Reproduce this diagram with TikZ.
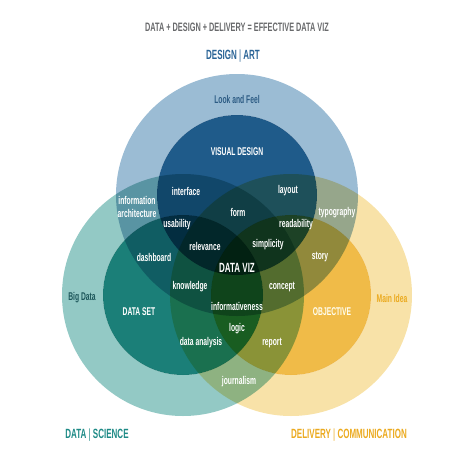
\documentclass[tikz,border=0pt]{standalone}
\usepackage{fontspec}
\setmainfont{Liberation Sans}[FakeStretch=0.6]
\usepackage{tikz}
\usetikzlibrary{positioning}
\usepackage{xcolor}
\definecolor{designlight}{RGB}{155, 188, 212}
\definecolor{designdark}{RGB}{31, 91, 138}
\definecolor{datalight}{RGB}{147, 201, 197}
\definecolor{datadark}{RGB}{27, 127, 120}
\definecolor{deliverylight}{RGB}{248, 226, 168}
\definecolor{deliverydark}{RGB}{240, 187, 72}
\definecolor{titlegray}{RGB}{105, 106, 108}
\definecolor{designtext}{RGB}{42, 100, 150}
\definecolor{looktext}{RGB}{45, 92, 132}
\definecolor{datatext}{RGB}{30, 138, 134}
\definecolor{bigdatatext}{RGB}{28, 86, 90}
\definecolor{deliverytext}{RGB}{235, 170, 31}

\begin{document}
\begin{tikzpicture}[x=0.02cm, y=-0.02cm,
    disc/.style={blend mode=multiply},
    innertext/.style={font=\bfseries\fontsize{6.4}{7.0}\selectfont, text=white, align=center, inner sep=0pt},
    ringtext/.style={font=\bfseries\fontsize{6.4}{7.0}\selectfont, inner sep=0pt},
    headtext/.style={font=\bfseries\fontsize{7.6}{8.6}\selectfont, inner sep=0pt}]
  \useasboundingbox (0,0) rectangle (474,474);

  % --- Design circle ---
  \fill[disc, designlight, even odd rule] (237,195) circle (121) (237,195) circle (80);
  \fill[disc, designdark] (237,195) circle (80);
  % --- Data circle ---
  \fill[disc, datalight, even odd rule] (183,295) circle (121) (183,295) circle (80);
  \fill[disc, datadark] (183,295) circle (80);
  % --- Delivery circle ---
  \fill[disc, deliverylight, even odd rule] (291,295) circle (121) (291,295) circle (80);
  \fill[disc, deliverydark] (291,295) circle (80);

  % Headings
  \node[headtext, titlegray, font=\bfseries\fontsize{6.95}{8}\selectfont] (title) at (237,27)
    {DATA + DESIGN + DELIVERY = EFFECTIVE DATA VIZ};
  \node[headtext, designtext] (design) at (233,56) {DESIGN {\mdseries|} ART};
  \node[headtext, datatext] (data) at (97,435) {DATA {\mdseries|} SCIENCE};
  \node[headtext, deliverytext] (delivery) at (349,435) {DELIVERY {\mdseries|} COMMUNICATION};

  % Outer rings
  \node[ringtext, looktext] (look) at (237,99) {Look and Feel};
  \node[ringtext, bigdatatext] (bigdata) at (82,298) {Big Data};
  \node[ringtext, deliverytext] (mainidea) at (392,298) {Main Idea};

  % Inner circles
  \node[innertext] (visual) at (237,152) {VISUAL DESIGN};
  \node[innertext] (dataset) at (139,312) {DATA SET};
  \node[innertext, text=white!94!yellow] (objective) at (332,312) {OBJECTIVE};

  % Overlaps
  \node[innertext] (interface) at (186,191) {interface};
  \node[innertext] (layout) at (288,191) {layout};
  \node[innertext] (infoarch) at (137,207) {information\\architecture};
  \node[innertext] (form) at (238,212) {form};
  \node[innertext] (typography) at (337,213) {typography};
  \node[innertext] (usability) at (177,225) {usability};
  \node[innertext] (readability) at (296,225) {readability};
  \node[innertext] (relevance) at (205,246) {relevance};
  \node[innertext] (simplicity) at (268,245) {simplicity};
  \node[innertext] (dashboard) at (154,257) {dashboard};
  \node[innertext] (story) at (320,257) {story};
  \node[innertext, font=\bfseries\fontsize{7.6}{8.6}\selectfont] (dataviz) at (237,268) {DATA VIZ};
  \node[innertext] (knowledge) at (190,287) {knowledge};
  \node[innertext] (concept) at (282,287) {concept};
  \node[innertext] (informativeness) at (237,306) {informativeness};
  \node[innertext] (logic) at (237,329) {logic};
  \node[innertext] (analysis) at (201,343) {data analysis};
  \node[innertext] (report) at (272,343) {report};
  \node[innertext] (journalism) at (239,382) {journalism};
\end{tikzpicture}
\end{document}
